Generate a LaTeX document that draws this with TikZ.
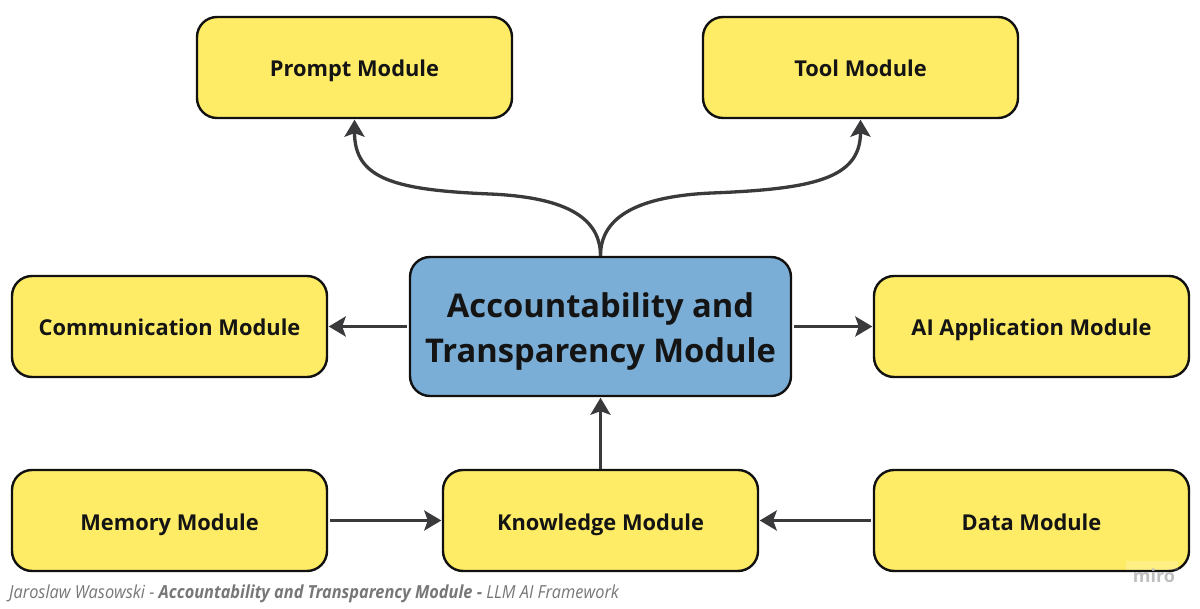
\documentclass[tikz,border=0pt]{standalone}
\usepackage{fontspec}
\setmainfont{Open Sans}
\usetikzlibrary{arrows.meta}
\definecolor{boxyellow}{HTML}{FFEC66}
\definecolor{boxblue}{HTML}{7BAED6}
\definecolor{boxline}{HTML}{111111}
\definecolor{arrowgray}{HTML}{3A3A3C}
\definecolor{capgray}{HTML}{777777}
\tikzset{
  x=1pt,y=-1pt,
  basebox/.style={draw=boxline,line width=2.4pt,rounded corners=20pt,inner sep=0pt,text=black!92,align=center},
  modbox/.style={basebox,fill=boxyellow,minimum width=315pt,minimum height=101pt,text height=19pt,text depth=0pt,font=\fontsize{21.85}{26}\selectfont\bfseries},
  centerbox/.style={basebox,fill=boxblue,minimum width=381pt,minimum height=139pt,font=\fontsize{32.7}{45}\selectfont\bfseries},
  conn/.style={draw=arrowgray,line width=3.3pt,-{Stealth[length=17pt,width=20pt,inset=3.5pt]},shorten >=0.5pt},
  gapconn/.style={conn,shorten <=2pt}
}
\begin{document}
\begin{tikzpicture}
\useasboundingbox (0,0) rectangle (1200,609);
\fill[white] (0,0) rectangle (1200,609);
\node[modbox] (prompt) at (354.5,67.5) {Prompt Module};
\node[modbox] (tool) at (860.5,67.5) {Tool Module};
\node[modbox] (comm) at (169.5,326.5) {Communication Module};
\node[modbox] (ai) at (1031.5,326.5) {AI Application Module};
\node[modbox] (mem) at (169.5,520.5) {Memory Module};
\node[modbox] (know) at (600.5,520.5) {Knowledge Module};
\node[modbox] (data) at (1031.5,520.5) {Data Module};
\node[centerbox] (acc) at (600.5,326.5) {\rule{0pt}{35pt}Accountability and\\Transparency Module};
\draw[gapconn] (acc.west) -- (comm.east);
\draw[gapconn] (acc.east) -- (ai.west);
\draw[conn] (know.north) -- (acc.south);
\draw[gapconn] (mem.east) -- (know.west);
\draw[gapconn] (data.west) -- (know.east);
\coordinate (mp) at (490,194);
\coordinate (mt) at (712,193);
\draw[conn] (acc.north) .. controls +(0,-41) and +(70,3) .. (mp) .. controls +(-95,-4) and +(0,60) .. (prompt.south);
\draw[conn] (acc.north) .. controls +(0,-41) and +(-70,3) .. (mt) .. controls +(100,-4) and +(0,60) .. (tool.south);
\node[anchor=west,inner sep=0pt,text=capgray,font=\fontsize{18}{20}\selectfont\itshape\addfontfeatures{FakeStretch=0.908}] (cap) at (9,594) {Jaroslaw Wasowski - \textbf{Accountability and Transparency Module -} LLM AI Framework};
\fill[white,opacity=0.2] (1126,561) rectangle (1178,570);
\node[inner sep=0pt,text=black!25,font=\fontsize{18}{20}\selectfont\bfseries] (miro) at (1154,576) {miro};
\end{tikzpicture}
\end{document}
